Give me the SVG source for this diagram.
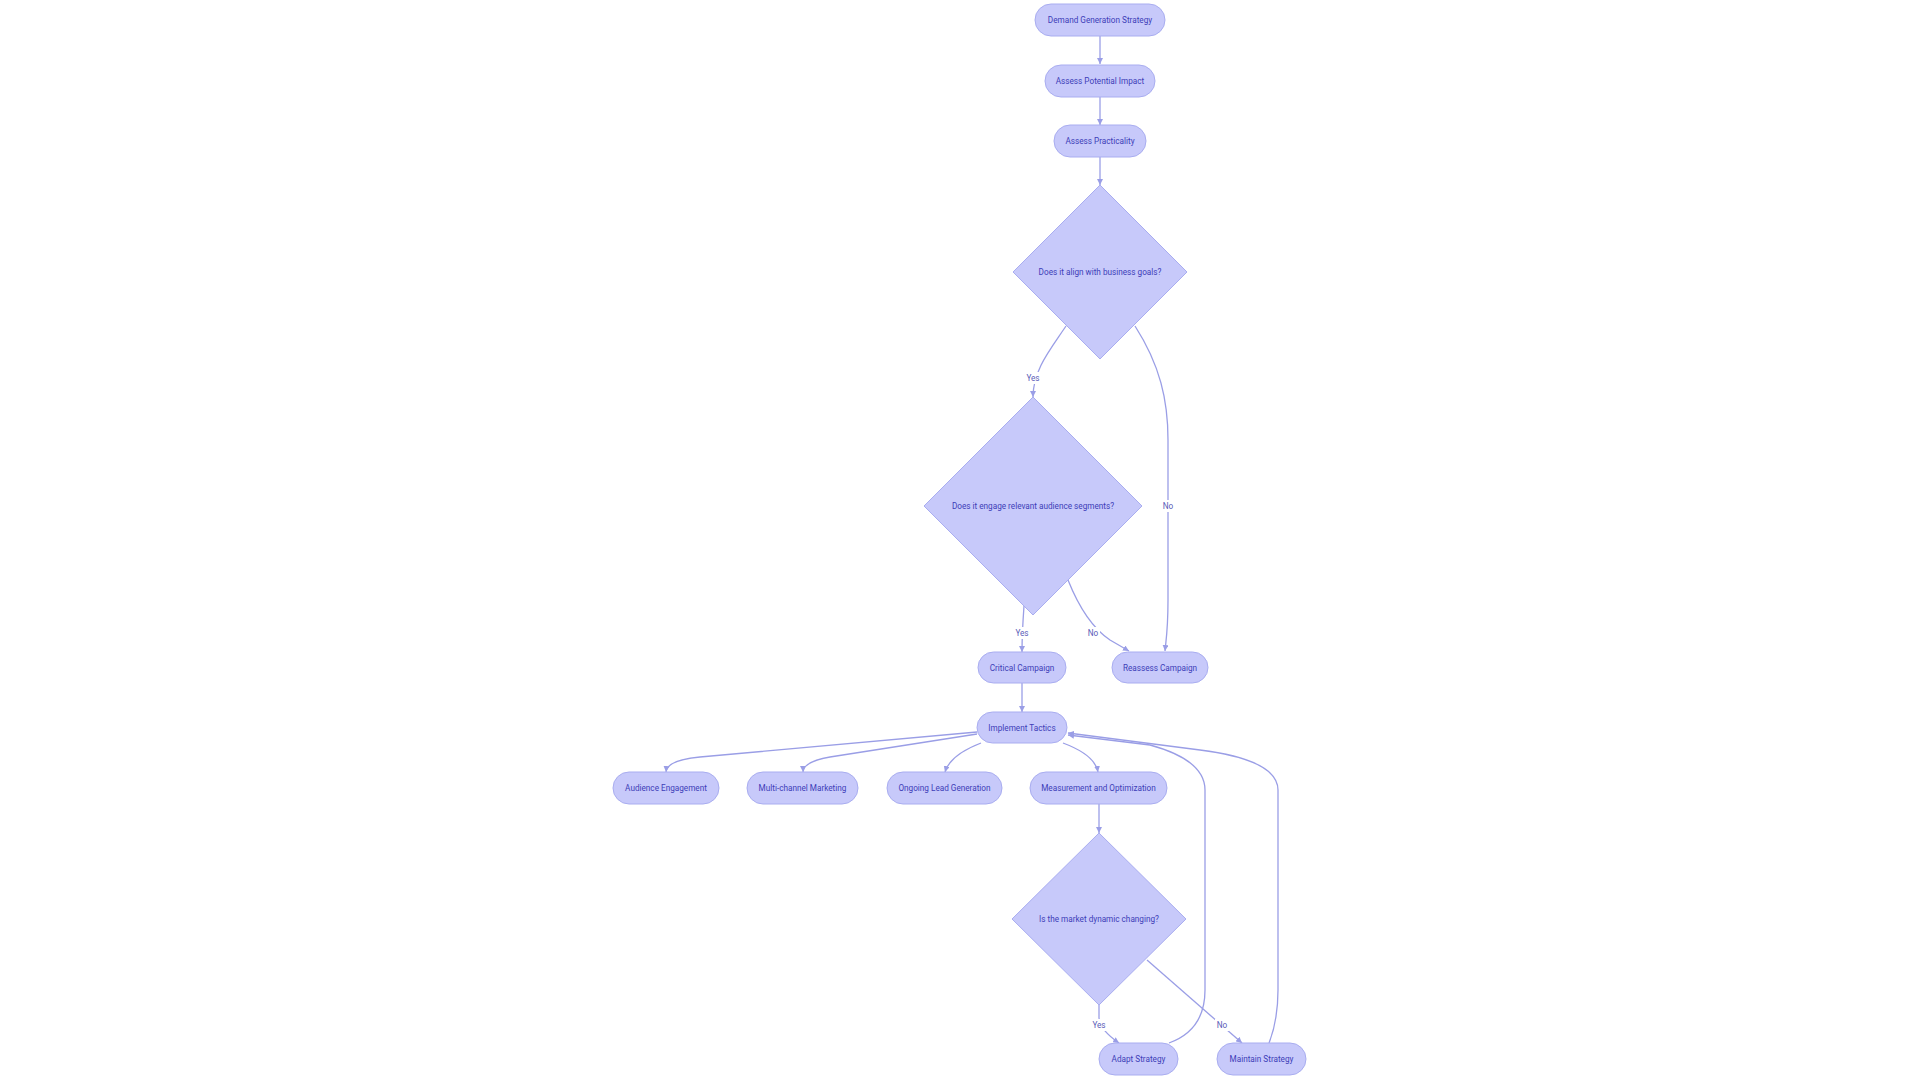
<svg xmlns="http://www.w3.org/2000/svg" width="1920" height="1080" viewBox="0 0 1920 1080">
<style>
.node rect,.node polygon{fill:#c7c9fa;stroke:#a9adf0;stroke-width:1}
.node text{font-family:Roboto,"Liberation Sans",sans-serif;font-size:8.2px;fill:#3d3db8;text-anchor:middle;dominant-baseline:central}
.edge{fill:none;stroke:#9a9ee6;stroke-width:1.3}
.elabel rect{fill:#ffffff}
.elabel text{font-family:Roboto,"Liberation Sans",sans-serif;font-size:8.2px;fill:#5a5cb8;text-anchor:middle;dominant-baseline:central}
</style>
<defs>
<marker id="arrow" viewBox="0 0 10 10" refX="10" refY="5" markerWidth="6" markerHeight="6" orient="auto" markerUnits="userSpaceOnUse">
<path d="M0,0 L10,5 L0,10 z" fill="#9a9ee6"/>
</marker>
</defs>
<rect width="1920" height="1080" fill="#ffffff"/>
<g id="connectors">
<path class="edge" d="M1100,36 L1100,64" marker-end="url(#arrow)"/>
<path class="edge" d="M1100,97 L1100,125" marker-end="url(#arrow)"/>
<path class="edge" d="M1100,157 L1100,185" marker-end="url(#arrow)"/>
<path class="edge" d="M1066,326 C1050,350 1033,370 1033,397" marker-end="url(#arrow)"/>
<path class="edge" d="M1135,326 C1160,365 1168,400 1168,440 L1168,600 C1168,630 1166,640 1165,651" marker-end="url(#arrow)"/>
<path class="edge" d="M1024,606 C1023,620 1022,635 1022,652" marker-end="url(#arrow)"/>
<path class="edge" d="M1068,580 C1080,610 1095,630 1110,640 L1129,651" marker-end="url(#arrow)"/>
<path class="edge" d="M1022,683 L1022,712" marker-end="url(#arrow)"/>
<path class="edge" d="M977,732 L700,757 Q667,760 666,772" marker-end="url(#arrow)"/>
<path class="edge" d="M977,734 L830,757 Q803,762 803,772" marker-end="url(#arrow)"/>
<path class="edge" d="M981,743 Q950,755 945,772" marker-end="url(#arrow)"/>
<path class="edge" d="M1063,743 Q1095,755 1098,772" marker-end="url(#arrow)"/>
<path class="edge" d="M1099,804 L1099,833" marker-end="url(#arrow)"/>
<path class="edge" d="M1099,1005 L1099,1018 Q1100,1030 1119,1043" marker-end="url(#arrow)"/>
<path class="edge" d="M1147,960 L1242,1043" marker-end="url(#arrow)"/>
<path class="edge" d="M1169,1043 Q1205,1030 1205,990 L1205,790 Q1205,760 1150,745 L1068,735" marker-end="url(#arrow)"/>
<path class="edge" d="M1269,1043 Q1278,1020 1278,990 L1278,790 Q1278,760 1200,750 L1068,733" marker-end="url(#arrow)"/>
<g class="elabel"><rect x="1024" y="372" width="18" height="12"/><text x="1033" y="378">Yes</text></g>
<g class="elabel"><rect x="1161" y="500" width="14" height="12"/><text x="1168" y="506">No</text></g>
<g class="elabel"><rect x="1013" y="627" width="18" height="12"/><text x="1022" y="633">Yes</text></g>
<g class="elabel"><rect x="1086" y="627" width="14" height="12"/><text x="1093" y="633">No</text></g>
<g class="elabel"><rect x="1090" y="1019" width="18" height="12"/><text x="1099" y="1025">Yes</text></g>
<g class="elabel"><rect x="1215" y="1019" width="14" height="12"/><text x="1222" y="1025">No</text></g>
</g>
<g id="n-demand" class="node"><rect x="1035" y="4" width="130" height="32" rx="16"/><text x="1100" y="20">Demand Generation Strategy</text></g>
<g id="n-impact" class="node"><rect x="1045" y="65" width="110" height="32" rx="16"/><text x="1100" y="81">Assess Potential Impact</text></g>
<g id="n-practicality" class="node"><rect x="1054" y="125" width="92" height="32" rx="16"/><text x="1100" y="141">Assess Practicality</text></g>
<g id="n-align" class="node"><polygon points="1100,185 1187,272 1100,359 1013,272"/><text x="1100" y="272">Does it align with business goals?</text></g>
<g id="n-engage" class="node"><polygon points="1033,397 1142,506 1033,615 924,506"/><text x="1033" y="506">Does it engage relevant audience segments?</text></g>
<g id="n-critical" class="node"><rect x="978" y="652" width="88" height="31" rx="15.5"/><text x="1022" y="668">Critical Campaign</text></g>
<g id="n-reassess" class="node"><rect x="1112" y="652" width="96" height="31" rx="15.5"/><text x="1160" y="668">Reassess Campaign</text></g>
<g id="n-implement" class="node"><rect x="977" y="712" width="90" height="31" rx="15.5"/><text x="1022" y="728">Implement Tactics</text></g>
<g id="n-audience" class="node"><rect x="613" y="772" width="106" height="32" rx="16"/><text x="666" y="788">Audience Engagement</text></g>
<g id="n-multichannel" class="node"><rect x="747" y="772" width="111" height="32" rx="16"/><text x="802.5" y="788">Multi-channel Marketing</text></g>
<g id="n-ongoing" class="node"><rect x="887" y="772" width="115" height="32" rx="16"/><text x="944.5" y="788">Ongoing Lead Generation</text></g>
<g id="n-measurement" class="node"><rect x="1030" y="772" width="137" height="32" rx="16"/><text x="1098.5" y="788">Measurement and Optimization</text></g>
<g id="n-market" class="node"><polygon points="1099,833 1186,919 1099,1005 1012,919"/><text x="1099" y="919">Is the market dynamic changing?</text></g>
<g id="n-adapt" class="node"><rect x="1099" y="1043" width="79" height="32" rx="16"/><text x="1138.5" y="1059">Adapt Strategy</text></g>
<g id="n-maintain" class="node"><rect x="1217" y="1043" width="89" height="32" rx="16"/><text x="1261.5" y="1059">Maintain Strategy</text></g>
</svg>
